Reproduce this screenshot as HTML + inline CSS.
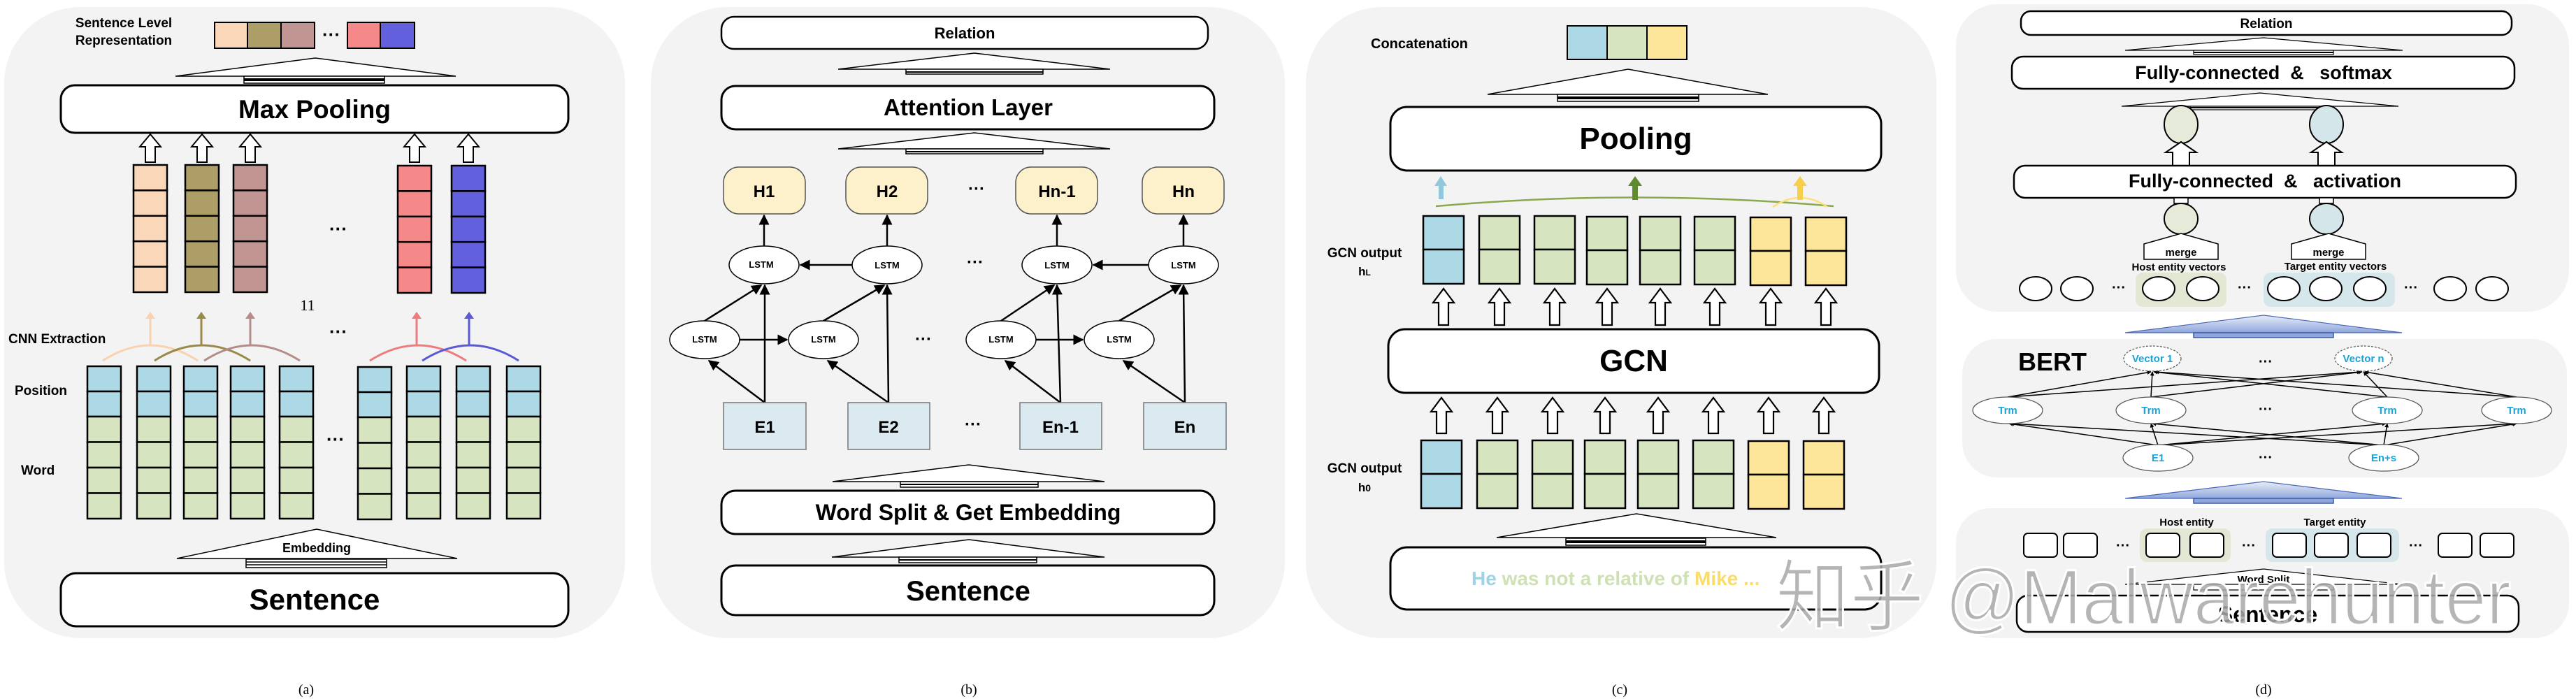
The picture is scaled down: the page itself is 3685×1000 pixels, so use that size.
<!DOCTYPE html>
<html><head><meta charset="utf-8"><style>html,body{margin:0;padding:0;background:#fff}svg{display:block}</style></head>
<body>
<svg width="3685" height="1000" viewBox="0 0 3685 1000" xmlns="http://www.w3.org/2000/svg" font-family="Liberation Sans, sans-serif">
<defs>
<marker id="ah" viewBox="0 0 10 10" refX="9" refY="5" markerWidth="6" markerHeight="6" orient="auto"><path d="M0,0L10,5L0,10z" fill="#000"/></marker>
<marker id="ahs" viewBox="0 0 10 10" refX="9" refY="5" markerWidth="4" markerHeight="4" orient="auto"><path d="M0,0L10,5L0,10z" fill="#000"/></marker>
<linearGradient id="bg1" x1="0" y1="0" x2="0" y2="1"><stop offset="0" stop-color="#e9eef8"/><stop offset="1" stop-color="#8fa6dc"/></linearGradient>
</defs>
<rect width="3685" height="1000" fill="#fff"/>

<!-- ============ PANEL A ============ -->
<rect x="6" y="10" width="888" height="903" rx="110" fill="#f3f3f3"/>
<text x="177" y="39" font-size="19" font-weight="bold" text-anchor="middle">Sentence Level</text>
<text x="177" y="64" font-size="19" font-weight="bold" text-anchor="middle">Representation</text>
<g stroke="#000" stroke-width="2">
<rect x="307" y="32" width="47" height="37" fill="#f9d7b8"/><rect x="354" y="32" width="48" height="37" fill="#ad9d66"/><rect x="402" y="32" width="48" height="37" fill="#c09592"/>
<rect x="497" y="32" width="47" height="37" fill="#f5898a"/><rect x="544" y="32" width="49" height="37" fill="#6260dc"/>
</g>
<text x="474" y="58" font-size="26" font-weight="bold" text-anchor="middle">···</text>
<polygon points="251,109 451,83 652,109" fill="#fff" stroke="#000" stroke-width="1.5"/>
<rect x="349" y="109" width="201" height="10" fill="#fff" stroke="#000" stroke-width="1.5"/><line x1="349" y1="114" x2="550" y2="114" stroke="#000" stroke-width="4"/>
<rect x="87" y="122" width="726" height="68" rx="20" fill="#fff" stroke="#000" stroke-width="3"/>
<text x="450" y="169" font-size="37" font-weight="bold" text-anchor="middle">Max Pooling</text>
<g fill="#fff" stroke="#000" stroke-width="2">
<path transform="translate(215,192)" d="M0,0L15,18L7,18L7,40L-7,40L-7,18L-15,18Z"/>
<path transform="translate(289,192)" d="M0,0L15,18L7,18L7,40L-7,40L-7,18L-15,18Z"/>
<path transform="translate(358,192)" d="M0,0L15,18L7,18L7,40L-7,40L-7,18L-15,18Z"/>
<path transform="translate(593,192)" d="M0,0L15,18L7,18L7,40L-7,40L-7,18L-15,18Z"/>
<path transform="translate(670,192)" d="M0,0L15,18L7,18L7,40L-7,40L-7,18L-15,18Z"/>
</g>
<g stroke="#000" stroke-width="2.5">
<g fill="#f9d7b8"><rect x="191" y="236" width="48" height="36.4"/><rect x="191" y="272.4" width="48" height="36.4"/><rect x="191" y="308.8" width="48" height="36.4"/><rect x="191" y="345.2" width="48" height="36.4"/><rect x="191" y="381.6" width="48" height="36.4"/></g>
<g fill="#ad9d66"><rect x="265" y="236" width="48" height="36.4"/><rect x="265" y="272.4" width="48" height="36.4"/><rect x="265" y="308.8" width="48" height="36.4"/><rect x="265" y="345.2" width="48" height="36.4"/><rect x="265" y="381.6" width="48" height="36.4"/></g>
<g fill="#c09592"><rect x="334" y="236" width="48" height="36.4"/><rect x="334" y="272.4" width="48" height="36.4"/><rect x="334" y="308.8" width="48" height="36.4"/><rect x="334" y="345.2" width="48" height="36.4"/><rect x="334" y="381.6" width="48" height="36.4"/></g>
<g fill="#f5898a"><rect x="569" y="237" width="48" height="36.4"/><rect x="569" y="273.4" width="48" height="36.4"/><rect x="569" y="309.8" width="48" height="36.4"/><rect x="569" y="346.2" width="48" height="36.4"/><rect x="569" y="382.6" width="48" height="36.4"/></g>
<g fill="#6260dc"><rect x="646" y="237" width="48" height="36.4"/><rect x="646" y="273.4" width="48" height="36.4"/><rect x="646" y="309.8" width="48" height="36.4"/><rect x="646" y="346.2" width="48" height="36.4"/><rect x="646" y="382.6" width="48" height="36.4"/></g>
</g>
<text x="484" y="336" font-size="26" font-weight="bold" text-anchor="middle">···</text>
<text x="440" y="444" font-size="22" font-family="Liberation Serif, serif" text-anchor="middle">11</text>
<text x="12" y="491" font-size="19" font-weight="bold">CNN Extraction</text>
<text x="484" y="483" font-size="26" font-weight="bold" text-anchor="middle">···</text>
<g fill="none" stroke-width="3">
<path d="M147,516 Q215,472 283,516" stroke="#f9d2b0"/><line x1="215" y1="494" x2="215" y2="452" stroke="#f9d2b0"/><path d="M208,456L215,446L222,456Z" fill="#f9d2b0" stroke="none"/>
<path d="M221,516 Q289,472 358,516" stroke="#9a8a4a"/><line x1="288" y1="494" x2="288" y2="452" stroke="#9a8a4a"/><path d="M281,456L288,446L295,456Z" fill="#9a8a4a" stroke="none"/>
<path d="M292,516 Q360,472 429,516" stroke="#b58c88"/><line x1="358" y1="494" x2="358" y2="452" stroke="#b58c88"/><path d="M351,456L358,446L365,456Z" fill="#b58c88" stroke="none"/>
<path d="M529,516 Q598,472 667,516" stroke="#ee7c7e"/><line x1="596" y1="494" x2="596" y2="452" stroke="#ee7c7e"/><path d="M589,456L596,446L603,456Z" fill="#ee7c7e" stroke="none"/>
<path d="M604,516 Q673,472 742,516" stroke="#5a5ad8"/><line x1="671" y1="494" x2="671" y2="452" stroke="#5a5ad8"/><path d="M664,456L671,446L678,456Z" fill="#5a5ad8" stroke="none"/>
</g>
<text x="21" y="565" font-size="19" font-weight="bold">Position</text>
<text x="30" y="679" font-size="19" font-weight="bold">Word</text>
<g stroke="#000" stroke-width="2.5">
<g fill="#add8e6"><rect x="125" y="524" width="48" height="36"/><rect x="125" y="560" width="48" height="36"/><rect x="196" y="524" width="48" height="36"/><rect x="196" y="560" width="48" height="36"/><rect x="263" y="524" width="48" height="36"/><rect x="263" y="560" width="48" height="36"/><rect x="330" y="524" width="48" height="36"/><rect x="330" y="560" width="48" height="36"/><rect x="400" y="524" width="48" height="36"/><rect x="400" y="560" width="48" height="36"/><rect x="512" y="525" width="48" height="36"/><rect x="512" y="561" width="48" height="36"/><rect x="582" y="524" width="48" height="36"/><rect x="582" y="560" width="48" height="36"/><rect x="653" y="524" width="48" height="36"/><rect x="653" y="560" width="48" height="36"/><rect x="725" y="524" width="48" height="36"/><rect x="725" y="560" width="48" height="36"/></g>
<g fill="#d6e4bf">
<rect x="125" y="596" width="48" height="36.5"/><rect x="125" y="632.5" width="48" height="36.5"/><rect x="125" y="669" width="48" height="36.5"/><rect x="125" y="705.5" width="48" height="36.5"/>
<rect x="196" y="596" width="48" height="36.5"/><rect x="196" y="632.5" width="48" height="36.5"/><rect x="196" y="669" width="48" height="36.5"/><rect x="196" y="705.5" width="48" height="36.5"/>
<rect x="263" y="596" width="48" height="36.5"/><rect x="263" y="632.5" width="48" height="36.5"/><rect x="263" y="669" width="48" height="36.5"/><rect x="263" y="705.5" width="48" height="36.5"/>
<rect x="330" y="596" width="48" height="36.5"/><rect x="330" y="632.5" width="48" height="36.5"/><rect x="330" y="669" width="48" height="36.5"/><rect x="330" y="705.5" width="48" height="36.5"/>
<rect x="400" y="596" width="48" height="36.5"/><rect x="400" y="632.5" width="48" height="36.5"/><rect x="400" y="669" width="48" height="36.5"/><rect x="400" y="705.5" width="48" height="36.5"/>
<rect x="512" y="597" width="48" height="36.5"/><rect x="512" y="633.5" width="48" height="36.5"/><rect x="512" y="670" width="48" height="36.5"/><rect x="512" y="706.5" width="48" height="36.5"/>
<rect x="582" y="596" width="48" height="36.5"/><rect x="582" y="632.5" width="48" height="36.5"/><rect x="582" y="669" width="48" height="36.5"/><rect x="582" y="705.5" width="48" height="36.5"/>
<rect x="653" y="596" width="48" height="36.5"/><rect x="653" y="632.5" width="48" height="36.5"/><rect x="653" y="669" width="48" height="36.5"/><rect x="653" y="705.5" width="48" height="36.5"/>
<rect x="725" y="596" width="48" height="36.5"/><rect x="725" y="632.5" width="48" height="36.5"/><rect x="725" y="669" width="48" height="36.5"/><rect x="725" y="705.5" width="48" height="36.5"/>
</g></g>
<text x="480" y="637" font-size="26" font-weight="bold" text-anchor="middle">···</text>
<polygon points="253,799 453,757 654,799" fill="#fff" stroke="#000" stroke-width="1.5"/>
<rect x="352" y="800" width="201" height="12" fill="#fff" stroke="#000" stroke-width="1.5"/><line x1="352" y1="804" x2="553" y2="804" stroke="#000" stroke-width="1.5"/><line x1="352" y1="808" x2="553" y2="808" stroke="#000" stroke-width="1.5"/>
<text x="453" y="790" font-size="18" font-weight="bold" text-anchor="middle">Embedding</text>
<rect x="87" y="820" width="726" height="76" rx="22" fill="#fff" stroke="#000" stroke-width="3"/>
<text x="450" y="872" font-size="42" font-weight="bold" text-anchor="middle">Sentence</text>
<text x="438" y="993" font-size="20" font-family="Liberation Serif, serif" text-anchor="middle">(a)</text>

<!-- ============ PANEL B ============ -->
<rect x="931" y="10" width="907" height="903" rx="110" fill="#f3f3f3"/>
<rect x="1032" y="24" width="696" height="46" rx="18" fill="#fff" stroke="#000" stroke-width="2.5"/>
<text x="1380" y="55" font-size="22" font-weight="bold" text-anchor="middle">Relation</text>
<polygon points="1199,99 1394,76 1588,99" fill="#fff" stroke="#000" stroke-width="1.5"/>
<rect x="1296" y="99" width="196" height="7" fill="#fff" stroke="#000" stroke-width="1.5"/><line x1="1296" y1="103" x2="1492" y2="103" stroke="#000" stroke-width="2"/>
<rect x="1032" y="123" width="705" height="62" rx="20" fill="#fff" stroke="#000" stroke-width="3"/>
<text x="1385" y="165" font-size="33" font-weight="bold" text-anchor="middle">Attention Layer</text>
<polygon points="1199,213 1394,190 1588,213" fill="#fff" stroke="#000" stroke-width="1.5"/>
<rect x="1296" y="213" width="196" height="7" fill="#fff" stroke="#000" stroke-width="1.5"/><line x1="1296" y1="217" x2="1492" y2="217" stroke="#000" stroke-width="2"/>
<g fill="#fdf1cc" stroke="#555" stroke-width="1.5">
<rect x="1035" y="239" width="117" height="67" rx="22"/><rect x="1210" y="239" width="117" height="67" rx="22"/><rect x="1453" y="239" width="117" height="67" rx="22"/><rect x="1634" y="239" width="117" height="67" rx="22"/>
</g>
<g font-size="24" font-weight="bold" text-anchor="middle">
<text x="1093" y="282">H1</text><text x="1269" y="282">H2</text><text x="1512" y="282">Hn-1</text><text x="1693" y="282">Hn</text>
</g>
<text x="1397" y="278" font-size="24" font-weight="bold" text-anchor="middle">···</text>
<g stroke="#000" stroke-width="2.5" fill="none" marker-end="url(#ah)">
<line x1="1093" y1="352" x2="1093" y2="308"/><line x1="1269" y1="352" x2="1269" y2="308"/><line x1="1512" y1="352" x2="1512" y2="308"/><line x1="1693" y1="352" x2="1693" y2="308"/>
<line x1="1219" y1="379" x2="1145" y2="379"/><line x1="1643" y1="379" x2="1564" y2="379"/>
<line x1="1058" y1="486" x2="1126" y2="486"/><line x1="1482" y1="486" x2="1549" y2="486"/>
<line x1="1094" y1="576" x2="1094" y2="408"/><line x1="1271" y1="576" x2="1269" y2="408"/><line x1="1517" y1="576" x2="1512" y2="408"/><line x1="1695" y1="576" x2="1693" y2="408"/>
<line x1="1094" y1="576" x2="1014" y2="516"/><line x1="1271" y1="576" x2="1184" y2="516"/><line x1="1517" y1="576" x2="1438" y2="516"/><line x1="1695" y1="576" x2="1607" y2="516"/>
<line x1="1008" y1="459" x2="1089" y2="408"/><line x1="1178" y1="459" x2="1265" y2="408"/><line x1="1432" y1="459" x2="1508" y2="408"/><line x1="1601" y1="459" x2="1689" y2="408"/>
</g>
<g fill="#fff" stroke="#000" stroke-width="1.5">
<ellipse cx="1093" cy="379" rx="50" ry="27"/><ellipse cx="1269" cy="379" rx="50" ry="27"/><ellipse cx="1512" cy="379" rx="50" ry="27"/><ellipse cx="1693" cy="379" rx="50" ry="27"/>
<ellipse cx="1008" cy="486" rx="50" ry="27"/><ellipse cx="1178" cy="486" rx="50" ry="27"/><ellipse cx="1432" cy="486" rx="50" ry="27"/><ellipse cx="1601" cy="486" rx="50" ry="27"/>
</g>
<g font-size="13" font-weight="bold" text-anchor="middle">
<text x="1089" y="383">LSTM</text><text x="1269" y="384">LSTM</text><text x="1512" y="384">LSTM</text><text x="1693" y="384">LSTM</text>
<text x="1008" y="490">LSTM</text><text x="1178" y="490">LSTM</text><text x="1432" y="490">LSTM</text><text x="1601" y="490">LSTM</text>
</g>
<text x="1395" y="383" font-size="24" font-weight="bold" text-anchor="middle">···</text>
<text x="1321" y="493" font-size="24" font-weight="bold" text-anchor="middle">···</text>
<g fill="#dbe9f0" stroke="#777" stroke-width="1.5">
<rect x="1035" y="576" width="118" height="67"/><rect x="1213" y="576" width="117" height="67"/><rect x="1459" y="576" width="117" height="67"/><rect x="1636" y="576" width="118" height="67"/>
</g>
<g font-size="24" font-weight="bold" text-anchor="middle">
<text x="1094" y="619">E1</text><text x="1271" y="619">E2</text><text x="1517" y="619">En-1</text><text x="1695" y="619">En</text>
</g>
<text x="1392" y="615" font-size="24" font-weight="bold" text-anchor="middle">···</text>
<polygon points="1191,689 1386,665 1580,689" fill="#fff" stroke="#000" stroke-width="1.5"/>
<rect x="1288" y="689" width="197" height="8" fill="#fff" stroke="#000" stroke-width="1.5"/><line x1="1288" y1="693" x2="1485" y2="693" stroke="#000" stroke-width="2"/>
<rect x="1032" y="702" width="705" height="62" rx="20" fill="#fff" stroke="#000" stroke-width="3"/>
<text x="1385" y="744" font-size="32" font-weight="bold" text-anchor="middle">Word Split &amp; Get Embedding</text>
<polygon points="1190,797 1386,772 1580,797" fill="#fff" stroke="#000" stroke-width="1.5"/>
<rect x="1286" y="797" width="197" height="8" fill="#fff" stroke="#000" stroke-width="1.5"/><line x1="1286" y1="801" x2="1483" y2="801" stroke="#000" stroke-width="2"/>
<rect x="1032" y="809" width="705" height="71" rx="20" fill="#fff" stroke="#000" stroke-width="3"/>
<text x="1385" y="859" font-size="40" font-weight="bold" text-anchor="middle">Sentence</text>
<text x="1386" y="993" font-size="20" font-family="Liberation Serif, serif" text-anchor="middle">(b)</text>

<!-- ============ PANEL C ============ -->
<rect x="1868" y="10" width="902" height="903" rx="110" fill="#f3f3f3"/>
<text x="1961" y="69" font-size="20" font-weight="bold">Concatenation</text>
<g stroke="#000" stroke-width="2">
<rect x="2242" y="37" width="57" height="48" fill="#add8e6"/><rect x="2299" y="37" width="57" height="48" fill="#d6e4bf"/><rect x="2356" y="37" width="57" height="48" fill="#fde69a"/>
</g>
<polygon points="2128,135 2329,99 2529,135" fill="#fff" stroke="#000" stroke-width="1.5"/>
<rect x="2228" y="135" width="202" height="10" fill="#fff" stroke="#000" stroke-width="1.5"/><line x1="2228" y1="140" x2="2430" y2="140" stroke="#000" stroke-width="4"/>
<rect x="1989" y="153" width="702" height="91" rx="24" fill="#fff" stroke="#000" stroke-width="3"/>
<text x="2340" y="213" font-size="44" font-weight="bold" text-anchor="middle">Pooling</text>
<path d="M2054,295 Q2339,270 2623,295" fill="none" stroke="#8aa84e" stroke-width="2.5"/>
<path d="M2536,296 Q2575,270 2614,296" fill="none" stroke="#fde07a" stroke-width="2.5"/>
<g>
<rect x="2058" y="264" width="7" height="21" fill="#92c8dc"/><path d="M2052,266L2061,252L2070,266Z" fill="#92c8dc"/>
<rect x="2335" y="264" width="8" height="22" fill="#5f8a2e"/><path d="M2329,266L2339,252L2349,266Z" fill="#5f8a2e"/>
<rect x="2571" y="264" width="8" height="22" fill="#f8cf4a"/><path d="M2565,266L2575,252L2585,266Z" fill="#f8cf4a"/>
</g>
<text x="1952" y="368" font-size="19" font-weight="bold" text-anchor="middle">GCN output</text>
<text x="1952" y="394" font-size="17" font-weight="bold" text-anchor="middle">h<tspan font-size="12">L</tspan></text>
<g stroke="#000" stroke-width="2.5">
<rect x="2036" y="309" width="58" height="48" fill="#add8e6"/><rect x="2036" y="357" width="58" height="49" fill="#add8e6"/>
<g fill="#d6e4bf">
<rect x="2116" y="309" width="58" height="48"/><rect x="2116" y="357" width="58" height="49"/>
<rect x="2195" y="309" width="58" height="48"/><rect x="2195" y="357" width="58" height="49"/>
<rect x="2270" y="310" width="58" height="48"/><rect x="2270" y="358" width="58" height="49"/>
<rect x="2346" y="310" width="58" height="48"/><rect x="2346" y="358" width="58" height="49"/>
<rect x="2424" y="310" width="58" height="48"/><rect x="2424" y="358" width="58" height="49"/>
</g>
<g fill="#fde69a"><rect x="2504" y="311" width="58" height="48"/><rect x="2504" y="359" width="58" height="49"/><rect x="2583" y="311" width="58" height="48"/><rect x="2583" y="359" width="58" height="49"/></g>
</g>
<g fill="#fff" stroke="#000" stroke-width="2.2">
<path transform="translate(2065,413)" d="M0,0L15,20L7,20L7,52L-7,52L-7,20L-15,20Z"/>
<path transform="translate(2145,413)" d="M0,0L15,20L7,20L7,52L-7,52L-7,20L-15,20Z"/>
<path transform="translate(2224,413)" d="M0,0L15,20L7,20L7,52L-7,52L-7,20L-15,20Z"/>
<path transform="translate(2299,413)" d="M0,0L15,20L7,20L7,52L-7,52L-7,20L-15,20Z"/>
<path transform="translate(2375,413)" d="M0,0L15,20L7,20L7,52L-7,52L-7,20L-15,20Z"/>
<path transform="translate(2453,413)" d="M0,0L15,20L7,20L7,52L-7,52L-7,20L-15,20Z"/>
<path transform="translate(2533,413)" d="M0,0L15,20L7,20L7,52L-7,52L-7,20L-15,20Z"/>
<path transform="translate(2612,413)" d="M0,0L15,20L7,20L7,52L-7,52L-7,20L-15,20Z"/>
</g>
<rect x="1986" y="471" width="702" height="91" rx="24" fill="#fff" stroke="#000" stroke-width="3"/>
<text x="2337" y="531" font-size="44" font-weight="bold" text-anchor="middle">GCN</text>
<g fill="#fff" stroke="#000" stroke-width="2.2">
<path transform="translate(2062,569)" d="M0,0L15,20L7,20L7,51L-7,51L-7,20L-15,20Z"/>
<path transform="translate(2142,569)" d="M0,0L15,20L7,20L7,51L-7,51L-7,20L-15,20Z"/>
<path transform="translate(2221,569)" d="M0,0L15,20L7,20L7,51L-7,51L-7,20L-15,20Z"/>
<path transform="translate(2296,569)" d="M0,0L15,20L7,20L7,51L-7,51L-7,20L-15,20Z"/>
<path transform="translate(2372,569)" d="M0,0L15,20L7,20L7,51L-7,51L-7,20L-15,20Z"/>
<path transform="translate(2451,569)" d="M0,0L15,20L7,20L7,51L-7,51L-7,20L-15,20Z"/>
<path transform="translate(2530,569)" d="M0,0L15,20L7,20L7,51L-7,51L-7,20L-15,20Z"/>
<path transform="translate(2609,569)" d="M0,0L15,20L7,20L7,51L-7,51L-7,20L-15,20Z"/>
</g>
<text x="1952" y="676" font-size="19" font-weight="bold" text-anchor="middle">GCN output</text>
<text x="1952" y="703" font-size="17" font-weight="bold" text-anchor="middle">h<tspan font-size="14">0</tspan></text>
<g stroke="#000" stroke-width="2.5">
<rect x="2033" y="630" width="58" height="48" fill="#add8e6"/><rect x="2033" y="678" width="58" height="49" fill="#add8e6"/>
<g fill="#d6e4bf">
<rect x="2113" y="630" width="58" height="48"/><rect x="2113" y="678" width="58" height="49"/>
<rect x="2192" y="630" width="58" height="48"/><rect x="2192" y="678" width="58" height="49"/>
<rect x="2267" y="630" width="58" height="48"/><rect x="2267" y="678" width="58" height="49"/>
<rect x="2343" y="630" width="58" height="48"/><rect x="2343" y="678" width="58" height="49"/>
<rect x="2422" y="630" width="58" height="48"/><rect x="2422" y="678" width="58" height="49"/>
</g>
<g fill="#fde69a"><rect x="2501" y="631" width="58" height="48"/><rect x="2501" y="679" width="58" height="49"/><rect x="2580" y="631" width="58" height="48"/><rect x="2580" y="679" width="58" height="49"/></g>
</g>
<polygon points="2141,769 2341,735 2541,769" fill="#fff" stroke="#000" stroke-width="1.5"/>
<rect x="2240" y="770" width="200" height="10" fill="#fff" stroke="#000" stroke-width="1.5"/><line x1="2240" y1="775" x2="2440" y2="775" stroke="#000" stroke-width="4"/>
<rect x="1989" y="783" width="702" height="89" rx="24" fill="#fff" stroke="#000" stroke-width="3"/>
<text x="2105" y="837" font-size="28" font-weight="bold"><tspan fill="#9fd3e4">He</tspan><tspan fill="#cfe0b4"> was not a relative of </tspan><tspan fill="#f9dc6e">Mike ...</tspan></text>
<text x="2317" y="993" font-size="20" font-family="Liberation Serif, serif" text-anchor="middle">(c)</text>

<!-- ============ PANEL D ============ -->
<rect x="2798" y="6" width="877" height="440" rx="60" fill="#f3f3f3"/>
<rect x="2891" y="16" width="702" height="34" rx="14" fill="#fff" stroke="#000" stroke-width="2.5"/>
<text x="3242" y="40" font-size="19" font-weight="bold" text-anchor="middle">Relation</text>
<polygon points="3040,72 3238,54 3437,72" fill="#fff" stroke="#000" stroke-width="1.2"/>
<rect x="3138" y="72" width="200" height="6" fill="#fff" stroke="#000" stroke-width="1.2"/><line x1="3138" y1="75" x2="3338" y2="75" stroke="#000" stroke-width="2"/>
<rect x="2878" y="81" width="719" height="46" rx="16" fill="#fff" stroke="#000" stroke-width="2.5"/>
<text x="3238" y="113" font-size="27" font-weight="bold" text-anchor="middle" xml:space="preserve">Fully-connected  &amp;   softmax</text>
<polygon points="3035,152 3233,133 3431,152" fill="#fff" stroke="#000" stroke-width="1.2"/>
<rect x="3133" y="152" width="200" height="5" fill="#fff" stroke="#000" stroke-width="1.2"/><line x1="3133" y1="154" x2="3333" y2="154" stroke="#000" stroke-width="2"/>
<ellipse cx="3120" cy="178" rx="24" ry="27" fill="#e6ead9" stroke="#000" stroke-width="2"/>
<ellipse cx="3328" cy="178" rx="24" ry="27" fill="#d5e6ea" stroke="#000" stroke-width="2"/>
<g fill="#fff" stroke="#000" stroke-width="2">
<path transform="translate(3120,203)" d="M0,0L22,15L12,15L12,34L-12,34L-12,15L-22,15Z"/>
<path transform="translate(3328,203)" d="M0,0L22,15L12,15L12,34L-12,34L-12,15L-22,15Z"/>
</g>
<rect x="2881" y="237" width="718" height="46" rx="16" fill="#fff" stroke="#000" stroke-width="2.5"/>
<text x="3240" y="268" font-size="27" font-weight="bold" text-anchor="middle" xml:space="preserve">Fully-connected  &amp;   activation</text>
<rect x="3110" y="283" width="20" height="8" fill="#fff" stroke="#000" stroke-width="1.5"/>
<rect x="3318" y="283" width="20" height="8" fill="#fff" stroke="#000" stroke-width="1.5"/>
<ellipse cx="3120" cy="313" rx="24" ry="22" fill="#e6ead9" stroke="#000" stroke-width="2"/>
<ellipse cx="3328" cy="313" rx="24" ry="22" fill="#d5e6ea" stroke="#000" stroke-width="2"/>
<polygon points="3067,349 3120,334 3173,349 3173,371 3067,371" fill="#fff" stroke="#000" stroke-width="1.5"/>
<polygon points="3278,349 3331,334 3384,349 3384,371 3278,371" fill="#fff" stroke="#000" stroke-width="1.5"/>
<text x="3120" y="366" font-size="15" font-weight="bold" text-anchor="middle">merge</text>
<text x="3331" y="366" font-size="15" font-weight="bold" text-anchor="middle">merge</text>
<text x="3117" y="387" font-size="15" font-weight="bold" text-anchor="middle">Host entity vectors</text>
<text x="3341" y="386" font-size="15" font-weight="bold" text-anchor="middle">Target entity vectors</text>
<rect x="3055" y="390" width="130" height="49" rx="10" fill="#e3e8d5"/>
<rect x="3238" y="390" width="188" height="49" rx="10" fill="#d6e7ec"/>
<g fill="#fff" stroke="#000" stroke-width="2">
<ellipse cx="2912" cy="413" rx="23" ry="17"/><ellipse cx="2971" cy="413" rx="23" ry="17"/><ellipse cx="3088" cy="413" rx="23" ry="17"/><ellipse cx="3151" cy="413" rx="23" ry="17"/><ellipse cx="3267" cy="413" rx="23" ry="17"/><ellipse cx="3327" cy="413" rx="23" ry="17"/><ellipse cx="3390" cy="413" rx="23" ry="17"/><ellipse cx="3505" cy="413" rx="23" ry="17"/><ellipse cx="3565" cy="413" rx="23" ry="17"/>
</g>
<g font-size="20" font-weight="bold" text-anchor="middle"><text x="3031" y="418">···</text><text x="3211" y="418">···</text><text x="3449" y="418">···</text></g>
<polygon points="3040,476 3238,451 3436,476" fill="url(#bg1)" stroke="#4a67b5" stroke-width="1.2"/>
<rect x="3138" y="476" width="200" height="7" fill="#8fa6dc" stroke="#3c5aa8" stroke-width="1.5"/>
<rect x="2807" y="485" width="865" height="198" rx="50" fill="#f3f3f3"/>
<text x="2887" y="530" font-size="36" font-weight="bold">BERT</text>
<g stroke="#000" stroke-width="1.5" fill="none" marker-end="url(#ahs)">
<line x1="2872" y1="568" x2="3077" y2="532"/><line x1="3077" y1="568" x2="3079" y2="532"/><line x1="3415" y1="568" x2="3081" y2="532"/><line x1="3600" y1="568" x2="3083" y2="532"/>
<line x1="2872" y1="568" x2="3377" y2="532"/><line x1="3077" y1="568" x2="3379" y2="532"/><line x1="3415" y1="568" x2="3381" y2="532"/><line x1="3600" y1="568" x2="3383" y2="532"/>
<line x1="3087" y1="637" x2="2874" y2="606"/><line x1="3087" y1="637" x2="3077" y2="606"/><line x1="3087" y1="637" x2="3413" y2="606"/><line x1="3087" y1="637" x2="3598" y2="606"/>
<line x1="3410" y1="637" x2="2876" y2="606"/><line x1="3410" y1="637" x2="3079" y2="606"/><line x1="3410" y1="637" x2="3415" y2="606"/><line x1="3410" y1="637" x2="3600" y2="606"/>
</g>
<g fill="#fff" stroke="#555" stroke-width="1.2">
<ellipse cx="3079" cy="513" rx="41" ry="18" stroke-dasharray="3,2"/><ellipse cx="3381" cy="513" rx="41" ry="18" stroke-dasharray="3,2"/>
<ellipse cx="2872" cy="587" rx="50" ry="19"/><ellipse cx="3077" cy="587" rx="50" ry="19"/><ellipse cx="3415" cy="587" rx="50" ry="19"/><ellipse cx="3600" cy="587" rx="50" ry="19"/>
<ellipse cx="3087" cy="655" rx="50" ry="19"/><ellipse cx="3410" cy="655" rx="50" ry="19"/>
</g>
<g font-size="15" font-weight="bold" fill="#1aa3d9" text-anchor="middle">
<text x="3079" y="518">Vector 1</text><text x="3381" y="518">Vector n</text>
<text x="2872" y="592">Trm</text><text x="3077" y="592">Trm</text><text x="3415" y="592">Trm</text><text x="3600" y="592">Trm</text>
<text x="3087" y="660">E1</text><text x="3410" y="660">En+s</text>
</g>
<g font-size="20" font-weight="bold" text-anchor="middle"><text x="3241" y="524">···</text><text x="3241" y="592">···</text><text x="3241" y="661">···</text></g>
<polygon points="3040,713 3238,689 3436,713" fill="url(#bg1)" stroke="#4a67b5" stroke-width="1.2"/>
<rect x="3138" y="713" width="200" height="7" fill="#8fa6dc" stroke="#3c5aa8" stroke-width="1.5"/>
<rect x="2798" y="727" width="877" height="186" rx="50" fill="#f3f3f3"/>
<text x="3128" y="752" font-size="15" font-weight="bold" text-anchor="middle">Host entity</text>
<text x="3340" y="752" font-size="15" font-weight="bold" text-anchor="middle">Target entity</text>
<rect x="3061" y="756" width="130" height="48" rx="10" fill="#e3e8d5"/>
<rect x="3241" y="756" width="191" height="48" rx="10" fill="#d6e7ec"/>
<g fill="#fff" stroke="#000" stroke-width="2">
<rect x="2895" y="763" width="48" height="34" rx="6"/><rect x="2952" y="763" width="48" height="34" rx="6"/><rect x="3070" y="763" width="48" height="34" rx="6"/><rect x="3133" y="763" width="48" height="34" rx="6"/><rect x="3251" y="763" width="48" height="34" rx="6"/><rect x="3311" y="763" width="48" height="34" rx="6"/><rect x="3372" y="763" width="48" height="34" rx="6"/><rect x="3488" y="763" width="48" height="34" rx="6"/><rect x="3548" y="763" width="48" height="34" rx="6"/>
</g>
<g font-size="20" font-weight="bold" text-anchor="middle"><text x="3037" y="787">···</text><text x="3217" y="787">···</text><text x="3456" y="787">···</text></g>
<polygon points="3040,836 3238,814 3436,836" fill="#fff" stroke="#000" stroke-width="1.2"/>
<text x="3238" y="834" font-size="15" font-weight="bold" text-anchor="middle">Word Split</text>
<rect x="3138" y="836" width="200" height="8" fill="#fff" stroke="#000" stroke-width="1.2"/>
<rect x="2885" y="852" width="718" height="52" rx="16" fill="#fff" stroke="#000" stroke-width="2.5"/>
<text x="3244" y="890" font-size="32" font-weight="bold" text-anchor="middle">Sentence</text>
<text x="3238" y="993" font-size="20" font-family="Liberation Serif, serif" text-anchor="middle">(d)</text>

<!-- watermark -->
<text x="2540" y="893" font-size="112" fill="#a8a8a8" fill-opacity="0.85" stroke="#fff" stroke-width="3" font-family="Liberation Sans, Noto Sans CJK SC, sans-serif" textLength="1052" lengthAdjust="spacingAndGlyphs">知乎 @Malwarehunter</text>
</svg>
</body></html>
